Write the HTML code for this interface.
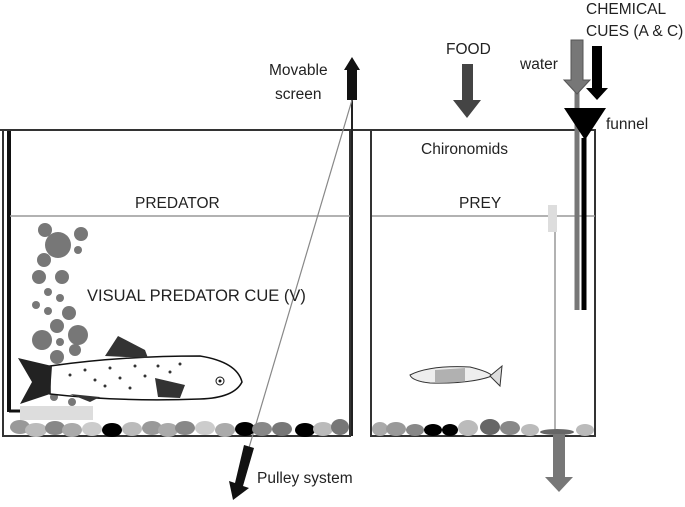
<!DOCTYPE html>
<html><head><meta charset="utf-8"><style>
body{margin:0;background:#fff}
svg{display:block}
text{font-family:"Liberation Sans",sans-serif;fill:#222}
</style></head><body>
<svg width="685" height="507" viewBox="0 0 685 507" xmlns="http://www.w3.org/2000/svg">
<line x1="0" y1="130" x2="596" y2="130" stroke="#333" stroke-width="2"/>
<rect x="3" y="130" width="347" height="306" fill="none" stroke="#333" stroke-width="2"/>
<line x1="9" y1="131" x2="9" y2="412" stroke="#111" stroke-width="4"/>
<line x1="9" y1="411" x2="20" y2="411" stroke="#111" stroke-width="3"/>
<rect x="371" y="130" width="224" height="306" fill="none" stroke="#333" stroke-width="2"/>
<line x1="10" y1="216" x2="350" y2="216" stroke="#999" stroke-width="1.5"/>
<line x1="372" y1="216" x2="595" y2="216" stroke="#999" stroke-width="1.5"/>
<line x1="352" y1="60" x2="352" y2="436" stroke="#222" stroke-width="2"/>
<polygon points="347,100 357,100 357,70 360,70 352,57 344,70 347,70" fill="#111"/>
<line x1="352" y1="100" x2="240" y2="478" stroke="#888" stroke-width="1.2"/>
<polygon points="244,445 254,448 243,486 249,488 233,500 229,481 235,483" fill="#111"/>
<polygon points="462,64 473,64 473,100 481,100 467,118 453,100 462,100" fill="#444"/>
<line x1="577" y1="92" x2="577" y2="310" stroke="#777" stroke-width="5"/>
<line x1="584" y1="138" x2="584" y2="310" stroke="#000" stroke-width="5"/>
<polygon points="571,40 583,40 583,80 590,80 577,94 564,80 571,80" fill="#777" stroke="#555" stroke-width="1"/>
<polygon points="592,46 602,46 602,88 608,88 597,100 586,88 592,88" fill="#000"/>
<polygon points="564,108 606,108 585,140" fill="#000"/>
<rect x="548" y="205" width="9" height="27" fill="#ddd"/>
<line x1="555" y1="232" x2="555" y2="432" stroke="#999" stroke-width="1.5"/>
<ellipse cx="557" cy="432" rx="17" ry="3" fill="#666"/>
<polygon points="553,434 565,434 565,477 573,477 559,492 545,477 553,477" fill="#777"/>
<g>
<ellipse cx="20" cy="427" rx="10" ry="7" fill="#999"/><ellipse cx="36" cy="430" rx="11" ry="7" fill="#bbb"/>
<ellipse cx="55" cy="428" rx="10" ry="7" fill="#888"/><ellipse cx="72" cy="430" rx="10" ry="7" fill="#aaa"/>
<ellipse cx="92" cy="429" rx="10" ry="7" fill="#ccc"/><ellipse cx="112" cy="430" rx="10" ry="7" fill="#000"/>
<ellipse cx="132" cy="429" rx="10" ry="7" fill="#bbb"/><ellipse cx="152" cy="428" rx="10" ry="7" fill="#999"/>
<ellipse cx="168" cy="430" rx="10" ry="7" fill="#aaa"/><ellipse cx="185" cy="428" rx="10" ry="7" fill="#888"/>
<ellipse cx="205" cy="428" rx="10" ry="7" fill="#ccc"/><ellipse cx="225" cy="430" rx="10" ry="7" fill="#aaa"/>
<ellipse cx="245" cy="429" rx="10" ry="7" fill="#000"/><ellipse cx="262" cy="429" rx="10" ry="7" fill="#888"/>
<ellipse cx="282" cy="429" rx="10" ry="7" fill="#777"/><ellipse cx="305" cy="430" rx="10" ry="7" fill="#000"/>
<ellipse cx="323" cy="429" rx="10" ry="7" fill="#bbb"/><ellipse cx="340" cy="427" rx="9" ry="8" fill="#777"/>
</g>
<rect x="20" y="406" width="73" height="14" fill="#ddd"/>
<g>
<ellipse cx="380" cy="429" rx="8" ry="7" fill="#aaa"/><ellipse cx="396" cy="429" rx="10" ry="7" fill="#999"/>
<ellipse cx="415" cy="430" rx="9" ry="6" fill="#888"/><ellipse cx="433" cy="430" rx="9" ry="6" fill="#000"/>
<ellipse cx="450" cy="430" rx="8" ry="6" fill="#000"/><ellipse cx="468" cy="428" rx="10" ry="8" fill="#bbb"/>
<ellipse cx="490" cy="427" rx="10" ry="8" fill="#666"/><ellipse cx="510" cy="428" rx="10" ry="7" fill="#888"/>
<ellipse cx="530" cy="430" rx="9" ry="6" fill="#bbb"/><ellipse cx="585" cy="430" rx="9" ry="6" fill="#bbb"/>
</g>
<g fill="#777">
<circle cx="45" cy="230" r="7"/><circle cx="58" cy="245" r="13"/><circle cx="81" cy="234" r="7"/><circle cx="78" cy="250" r="4"/>
<circle cx="44" cy="260" r="7"/><circle cx="39" cy="277" r="7"/><circle cx="62" cy="277" r="7"/><circle cx="48" cy="292" r="4"/>
<circle cx="60" cy="298" r="4"/><circle cx="36" cy="305" r="4"/><circle cx="48" cy="311" r="4"/><circle cx="69" cy="313" r="7"/>
<circle cx="57" cy="326" r="7"/><circle cx="42" cy="340" r="10"/><circle cx="60" cy="342" r="4"/><circle cx="78" cy="335" r="10"/>
<circle cx="75" cy="350" r="6"/><circle cx="57" cy="357" r="7"/><circle cx="54" cy="397" r="4"/><circle cx="72" cy="402" r="4"/>
</g>
<path d="M50,366 Q120,356 200,356 Q237,362 242,382 Q234,398 200,399 Q120,402 50,394 Z" fill="#fff" stroke="#111" stroke-width="1.5"/>
<path d="M18,358 L52,366 L50,394 L20,404 L32,382 Z" fill="#222"/>
<path d="M105,356 L118,336 L145,350 L148,358 Z" fill="#333"/>
<path d="M155,378 L185,385 L180,398 L158,397 Z" fill="#333"/>
<path d="M70,394 L100,397 L90,402 Z" fill="#333"/>
<circle cx="220" cy="381" r="4" fill="#fff" stroke="#111"/><circle cx="220" cy="381" r="1.5" fill="#111"/>
<g fill="#333">
<circle cx="70" cy="375" r="1.5"/><circle cx="85" cy="370" r="1.5"/><circle cx="95" cy="380" r="1.5"/><circle cx="110" cy="368" r="1.5"/>
<circle cx="120" cy="378" r="1.5"/><circle cx="135" cy="366" r="1.5"/><circle cx="145" cy="376" r="1.5"/><circle cx="158" cy="366" r="1.5"/>
<circle cx="170" cy="372" r="1.5"/><circle cx="180" cy="364" r="1.5"/><circle cx="105" cy="386" r="1.5"/><circle cx="130" cy="388" r="1.5"/>
</g>
<path d="M410,375 Q430,365 470,367 Q490,372 492,376 Q470,384 430,383 Q412,381 410,375 Z" fill="#eee" stroke="#333" stroke-width="1"/>
<path d="M490,376 L502,366 L500,386 Z" fill="#ddd" stroke="#333" stroke-width="1"/>
<path d="M435,370 L465,368 L465,382 L435,382 Z" fill="#888" opacity="0.6"/>
<text x="135" y="208" font-size="15.5">PREDATOR</text>
<text x="87" y="301" font-size="16.5">VISUAL PREDATOR CUE (V)</text>
<text x="269" y="75" font-size="15.5">Movable</text>
<text x="275" y="99" font-size="15.5">screen</text>
<text x="421" y="154" font-size="15.5">Chironomids</text>
<text x="459" y="208" font-size="15.5">PREY</text>
<text x="446" y="54" font-size="15.5">FOOD</text>
<text x="520" y="69" font-size="15.5">water</text>
<text x="586" y="14" font-size="15.5">CHEMICAL</text>
<text x="586" y="36" font-size="15.5">CUES (A &amp; C)</text>
<text x="606" y="129" font-size="15.5">funnel</text>
<text x="257" y="483" font-size="15.5">Pulley system</text>
</svg>
</body></html>
